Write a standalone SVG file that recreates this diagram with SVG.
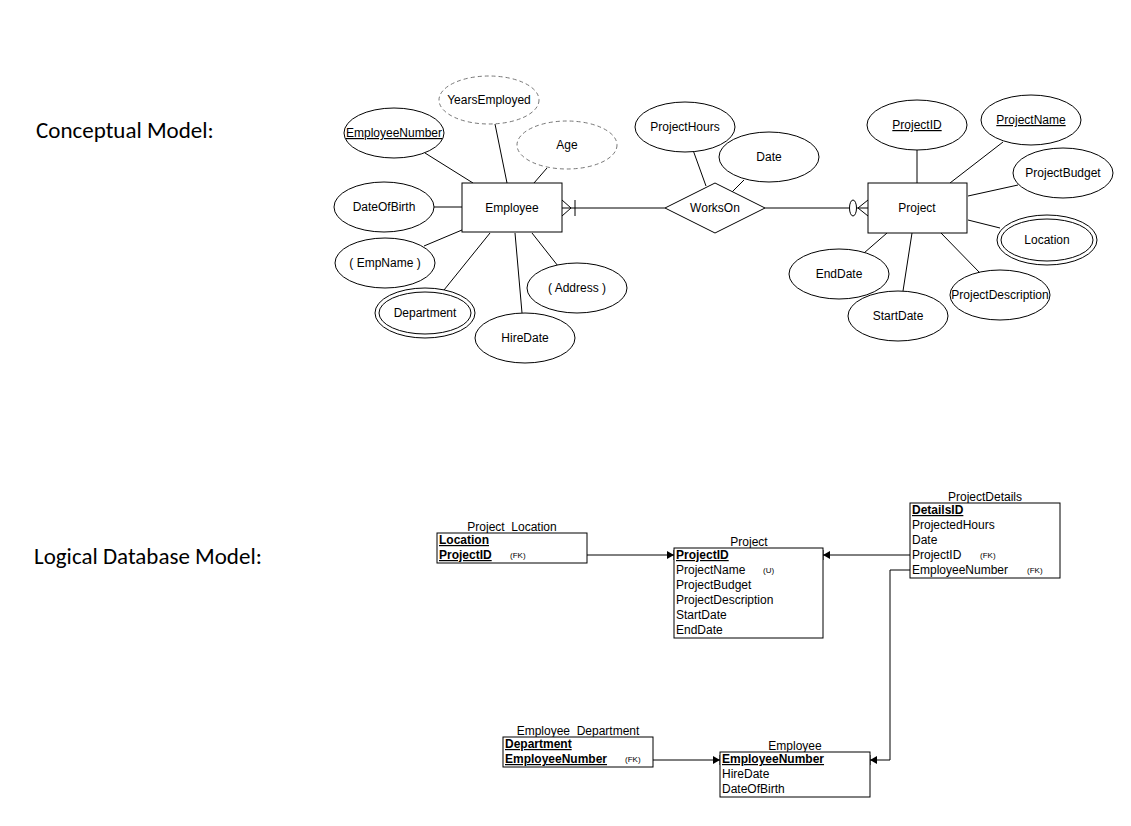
<svg xmlns="http://www.w3.org/2000/svg" width="1131" height="826" viewBox="0 0 1131 826">
<style>
text{font-family:"Liberation Sans",Arial,sans-serif;font-size:12px;fill:#000}
.c{text-anchor:middle}
.big{font-family:Carlito,"Open Sans","Liberation Sans",sans-serif;font-size:23px}
.e{fill:#fff;stroke:#000;stroke-width:1}
.d{fill:#fff;stroke:#777;stroke-dasharray:4 3}
.l{stroke:#000;stroke-width:1;fill:none}
.b{font-weight:bold;text-decoration:underline}
.fk{font-size:8px}
.t{font-size:12px}
</style>
<defs>
<marker id="a" markerWidth="8" markerHeight="10" refX="7" refY="5" orient="auto" markerUnits="userSpaceOnUse">
<path d="M0,1 L7,5 L0,9 Z" fill="#000"/><path d="M7,0 V10" stroke="#000"/>
</marker>
</defs>
<rect width="1131" height="826" fill="#fff"/>
<text class="big" x="36" y="138">Conceptual Model:</text>
<text class="big" x="34" y="564">Logical Database Model:</text>
<g id="connectors">
<path class="l" d="M425,153L473,183M495,124L507,183M547,168L534,183M434,207L462,207M424,246L462,230M444,290L490,233M522,313L515,233M558,266L532,233"/>
<path class="l" d="M693,150L706,186M744,180L732,192"/>
<path class="l" d="M562,208L665,208M562,200L571,208L562,216M575,200V216"/>
<path class="l" d="M765,208L849,208M857,208L868,208M858,208L868,200M858,208L868,216"/>
<ellipse cx="853" cy="208" rx="3.5" ry="8" class="e"/>
<path class="l" d="M917,150L917,183M1003,142L950,183M1018,185L968,196M1000,228L968,220M980,273L941,233M903,291L912,233M864,253L887,233"/>
<path class="l" d="M587,555H674" marker-end="url(#a)"/>
<path class="l" d="M910,555H823" marker-end="url(#a)"/>
<path class="l" d="M910,570H890V760H870" marker-end="url(#a)"/>
<path class="l" d="M653,760H720" marker-end="url(#a)"/>
</g>
<g id="employee"><rect x="462" y="183" width="100" height="49" class="e"/><text class="c" x="512" y="212">Employee</text></g>
<g id="yearsEmployed"><ellipse cx="489" cy="100" rx="50" ry="24" class="d"/><text class="c" x="489" y="104">YearsEmployed</text></g>
<g id="employeeNumber"><ellipse cx="394" cy="133" rx="50" ry="25" class="e"/><text class="c" x="394" y="137" text-decoration="underline">EmployeeNumber</text></g>
<g id="age"><ellipse cx="567" cy="145" rx="50" ry="24" class="d"/><text class="c" x="567" y="149">Age</text></g>
<g id="dateOfBirth"><ellipse cx="384" cy="207" rx="50" ry="25" class="e"/><text class="c" x="384" y="211">DateOfBirth</text></g>
<g id="empName"><ellipse cx="385" cy="263" rx="50" ry="25" class="e"/><text class="c" x="385" y="267">( EmpName )</text></g>
<g id="department"><ellipse cx="425" cy="313" rx="50" ry="25" class="e"/><ellipse cx="425" cy="313" rx="46" ry="21" class="e"/><text class="c" x="425" y="317">Department</text></g>
<g id="hireDate"><ellipse cx="525" cy="338" rx="50" ry="25" class="e"/><text class="c" x="525" y="342">HireDate</text></g>
<g id="address"><ellipse cx="577" cy="288" rx="50" ry="25" class="e"/><text class="c" x="577" y="292">( Address )</text></g>
<g id="worksOn"><path d="M665,208L715,183L765,208L715,233Z" class="e"/><text class="c" x="715" y="212">WorksOn</text></g>
<g id="projectHours"><ellipse cx="685" cy="127" rx="50" ry="25" class="e"/><text class="c" x="685" y="131">ProjectHours</text></g>
<g id="date"><ellipse cx="769" cy="157" rx="50" ry="25" class="e"/><text class="c" x="769" y="161">Date</text></g>
<g id="project"><rect x="868" y="183" width="99" height="50" class="e"/><text class="c" x="917" y="212">Project</text></g>
<g id="projectID"><ellipse cx="917" cy="125" rx="50" ry="25" class="e"/><text class="c" x="917" y="129" text-decoration="underline">ProjectID</text></g>
<g id="projectName"><ellipse cx="1031" cy="120" rx="50" ry="25" class="e"/><text class="c" x="1031" y="124" text-decoration="underline">ProjectName</text></g>
<g id="projectBudget"><ellipse cx="1063" cy="173" rx="50" ry="25" class="e"/><text class="c" x="1063" y="177">ProjectBudget</text></g>
<g id="location"><ellipse cx="1047" cy="240" rx="50" ry="25" class="e"/><ellipse cx="1047" cy="240" rx="46" ry="21" class="e"/><text class="c" x="1047" y="244">Location</text></g>
<g id="projectDescription"><ellipse cx="1000" cy="295" rx="50" ry="25" class="e"/><text class="c" x="1000" y="299">ProjectDescription</text></g>
<g id="startDate"><ellipse cx="898" cy="316" rx="50" ry="25" class="e"/><text class="c" x="898" y="320">StartDate</text></g>
<g id="endDate"><ellipse cx="839" cy="274" rx="50" ry="25" class="e"/><text class="c" x="839" y="278">EndDate</text></g>
<g id="t_project_location"><text class="c" x="512" y="531">Project_Location</text><rect x="437" y="533" width="150" height="30" class="e"/><text class="b" x="439" y="544">Location</text><text class="b" x="439" y="559">ProjectID</text><text class="fk" x="510" y="558">(FK)</text></g>
<g id="t_project"><text class="c" x="749" y="546">Project</text><rect x="674" y="548" width="149" height="90" class="e"/><text class="b" x="676" y="559">ProjectID</text><text x="676" y="574">ProjectName</text><text class="fk" x="763" y="573">(U)</text><text x="676" y="589">ProjectBudget</text><text x="676" y="604">ProjectDescription</text><text x="676" y="619">StartDate</text><text x="676" y="634">EndDate</text></g>
<g id="t_project_details"><text class="c" x="985" y="501">ProjectDetails</text><rect x="910" y="503" width="150" height="75" class="e"/><text class="b" x="912" y="514">DetailsID</text><text x="912" y="529">ProjectedHours</text><text x="912" y="544">Date</text><text x="912" y="559">ProjectID</text><text class="fk" x="980" y="558">(FK)</text><text x="912" y="574">EmployeeNumber</text><text class="fk" x="1027" y="573">(FK)</text></g>
<g id="t_employee_department"><text class="c" x="578" y="735">Employee_Department</text><rect x="503" y="737" width="150" height="30" class="e"/><text class="b" x="505" y="748">Department</text><text class="b" x="505" y="763">EmployeeNumber</text><text class="fk" x="625" y="762">(FK)</text></g>
<g id="t_employee"><text class="c" x="795" y="750">Employee</text><rect x="720" y="752" width="150" height="45" class="e"/><text class="b" x="722" y="763">EmployeeNumber</text><text x="722" y="778">HireDate</text><text x="722" y="793">DateOfBirth</text></g>
</svg>
